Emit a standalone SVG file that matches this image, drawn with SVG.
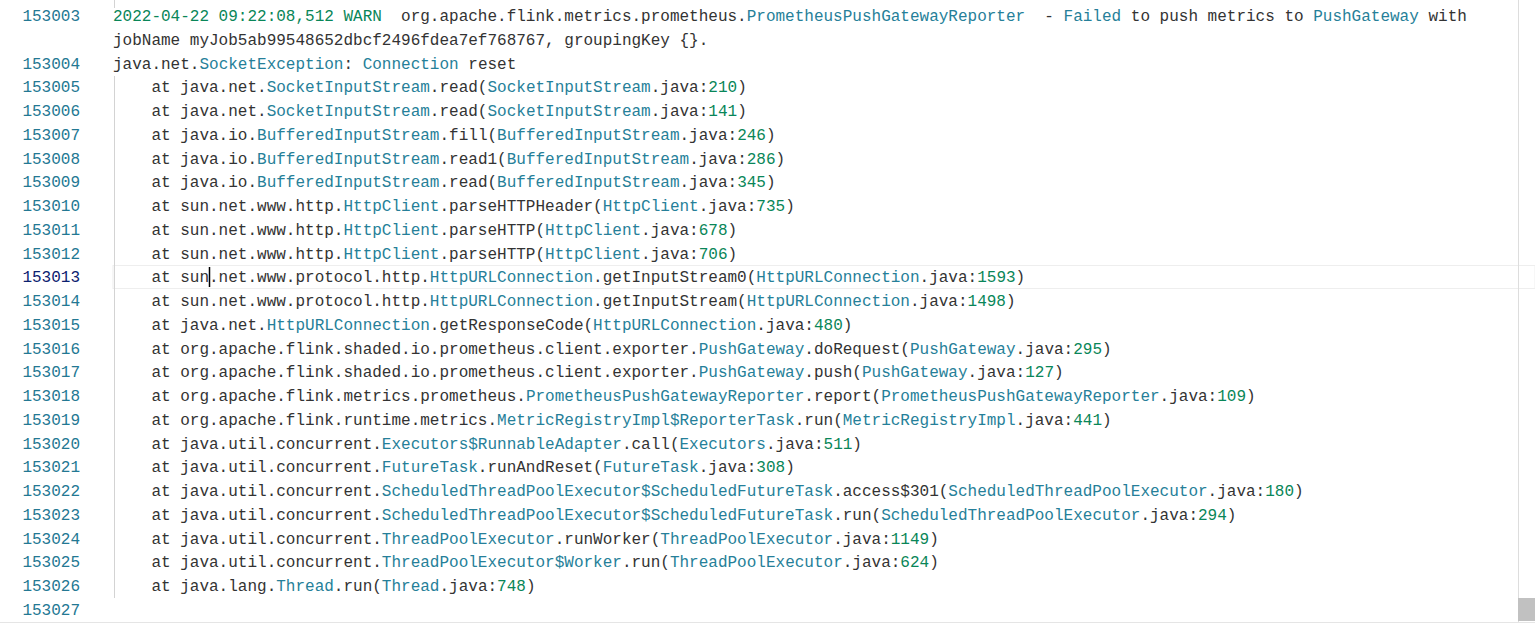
<svg xmlns="http://www.w3.org/2000/svg" width="1535" height="624" viewBox="0 0 1535 624">
<style>
text{font-family:"Liberation Mono",monospace;font-size:16px;fill:#333;white-space:pre}
.ln{fill:#237893;text-anchor:end}
.c{fill:#267f99}
.n{fill:#098658}
</style>
<rect width="1535" height="624" fill="#fff"/>
<g id="editor">
<rect x="113" y="265.5" width="1422" height="23" fill="none" stroke="#eeeeee"/>
<line x1="114.5" y1="0" x2="114.5" y2="8" stroke="#d3d3d3"/>
<line x1="114.5" y1="76" x2="114.5" y2="598" stroke="#d3d3d3"/>
<line x1="209.5" y1="267" x2="209.5" y2="287" stroke="#000" stroke-width="1.5"/>
<line x1="1518.5" y1="0" x2="1518.5" y2="622" stroke="#ddd"/>
<rect x="1518" y="598" width="17" height="23" fill="#c1c1c1"/>
<line x1="0" y1="622.5" x2="1535" y2="622.5" stroke="#e5e5e5"/>
</g>
<g id="gutter">
<text class="ln" x="80" y="21">153003</text>
<text class="ln" x="80" y="68.5">153004</text>
<text class="ln" x="80" y="92.25">153005</text>
<text class="ln" x="80" y="116">153006</text>
<text class="ln" x="80" y="139.75">153007</text>
<text class="ln" x="80" y="163.5">153008</text>
<text class="ln" x="80" y="187.25">153009</text>
<text class="ln" x="80" y="211">153010</text>
<text class="ln" x="80" y="234.75">153011</text>
<text class="ln" x="80" y="258.5">153012</text>
<text class="ln" x="80" y="282.25" style="fill:#0b216f">153013</text>
<text class="ln" x="80" y="306">153014</text>
<text class="ln" x="80" y="329.75">153015</text>
<text class="ln" x="80" y="353.5">153016</text>
<text class="ln" x="80" y="377.25">153017</text>
<text class="ln" x="80" y="401">153018</text>
<text class="ln" x="80" y="424.75">153019</text>
<text class="ln" x="80" y="448.5">153020</text>
<text class="ln" x="80" y="472.25">153021</text>
<text class="ln" x="80" y="496">153022</text>
<text class="ln" x="80" y="519.75">153023</text>
<text class="ln" x="80" y="543.5">153024</text>
<text class="ln" x="80" y="567.25">153025</text>
<text class="ln" x="80" y="591">153026</text>
<text class="ln" x="80" y="614.75">153027</text>
</g>
<g id="code">
<text xml:space="preserve" x="113" y="21"><tspan class="n">2022-04-22 09:22:08,512 WARN</tspan>  org.apache.flink.metrics.prometheus.<tspan class="c">PrometheusPushGatewayReporter</tspan>  - <tspan class="c">Failed</tspan> to push metrics to <tspan class="c">PushGateway</tspan> with</text>
<text xml:space="preserve" x="113" y="44.75">jobName myJob5ab99548652dbcf2496fdea7ef768767, groupingKey {}.</text>
<text xml:space="preserve" x="113" y="68.5">java.net.<tspan class="c">SocketException</tspan>: <tspan class="c">Connection</tspan> reset</text>
<text xml:space="preserve" x="113" y="92.25">    at java.net.<tspan class="c">SocketInputStream</tspan>.read(<tspan class="c">SocketInputStream</tspan>.java:<tspan class="n">210</tspan>)</text>
<text xml:space="preserve" x="113" y="116">    at java.net.<tspan class="c">SocketInputStream</tspan>.read(<tspan class="c">SocketInputStream</tspan>.java:<tspan class="n">141</tspan>)</text>
<text xml:space="preserve" x="113" y="139.75">    at java.io.<tspan class="c">BufferedInputStream</tspan>.fill(<tspan class="c">BufferedInputStream</tspan>.java:<tspan class="n">246</tspan>)</text>
<text xml:space="preserve" x="113" y="163.5">    at java.io.<tspan class="c">BufferedInputStream</tspan>.read1(<tspan class="c">BufferedInputStream</tspan>.java:<tspan class="n">286</tspan>)</text>
<text xml:space="preserve" x="113" y="187.25">    at java.io.<tspan class="c">BufferedInputStream</tspan>.read(<tspan class="c">BufferedInputStream</tspan>.java:<tspan class="n">345</tspan>)</text>
<text xml:space="preserve" x="113" y="211">    at sun.net.www.http.<tspan class="c">HttpClient</tspan>.parseHTTPHeader(<tspan class="c">HttpClient</tspan>.java:<tspan class="n">735</tspan>)</text>
<text xml:space="preserve" x="113" y="234.75">    at sun.net.www.http.<tspan class="c">HttpClient</tspan>.parseHTTP(<tspan class="c">HttpClient</tspan>.java:<tspan class="n">678</tspan>)</text>
<text xml:space="preserve" x="113" y="258.5">    at sun.net.www.http.<tspan class="c">HttpClient</tspan>.parseHTTP(<tspan class="c">HttpClient</tspan>.java:<tspan class="n">706</tspan>)</text>
<text xml:space="preserve" x="113" y="282.25">    at sun.net.www.protocol.http.<tspan class="c">HttpURLConnection</tspan>.getInputStream0(<tspan class="c">HttpURLConnection</tspan>.java:<tspan class="n">1593</tspan>)</text>
<text xml:space="preserve" x="113" y="306">    at sun.net.www.protocol.http.<tspan class="c">HttpURLConnection</tspan>.getInputStream(<tspan class="c">HttpURLConnection</tspan>.java:<tspan class="n">1498</tspan>)</text>
<text xml:space="preserve" x="113" y="329.75">    at java.net.<tspan class="c">HttpURLConnection</tspan>.getResponseCode(<tspan class="c">HttpURLConnection</tspan>.java:<tspan class="n">480</tspan>)</text>
<text xml:space="preserve" x="113" y="353.5">    at org.apache.flink.shaded.io.prometheus.client.exporter.<tspan class="c">PushGateway</tspan>.doRequest(<tspan class="c">PushGateway</tspan>.java:<tspan class="n">295</tspan>)</text>
<text xml:space="preserve" x="113" y="377.25">    at org.apache.flink.shaded.io.prometheus.client.exporter.<tspan class="c">PushGateway</tspan>.push(<tspan class="c">PushGateway</tspan>.java:<tspan class="n">127</tspan>)</text>
<text xml:space="preserve" x="113" y="401">    at org.apache.flink.metrics.prometheus.<tspan class="c">PrometheusPushGatewayReporter</tspan>.report(<tspan class="c">PrometheusPushGatewayReporter</tspan>.java:<tspan class="n">109</tspan>)</text>
<text xml:space="preserve" x="113" y="424.75">    at org.apache.flink.runtime.metrics.<tspan class="c">MetricRegistryImpl$ReporterTask</tspan>.run(<tspan class="c">MetricRegistryImpl</tspan>.java:<tspan class="n">441</tspan>)</text>
<text xml:space="preserve" x="113" y="448.5">    at java.util.concurrent.<tspan class="c">Executors$RunnableAdapter</tspan>.call(<tspan class="c">Executors</tspan>.java:<tspan class="n">511</tspan>)</text>
<text xml:space="preserve" x="113" y="472.25">    at java.util.concurrent.<tspan class="c">FutureTask</tspan>.runAndReset(<tspan class="c">FutureTask</tspan>.java:<tspan class="n">308</tspan>)</text>
<text xml:space="preserve" x="113" y="496">    at java.util.concurrent.<tspan class="c">ScheduledThreadPoolExecutor$ScheduledFutureTask</tspan>.access$301(<tspan class="c">ScheduledThreadPoolExecutor</tspan>.java:<tspan class="n">180</tspan>)</text>
<text xml:space="preserve" x="113" y="519.75">    at java.util.concurrent.<tspan class="c">ScheduledThreadPoolExecutor$ScheduledFutureTask</tspan>.run(<tspan class="c">ScheduledThreadPoolExecutor</tspan>.java:<tspan class="n">294</tspan>)</text>
<text xml:space="preserve" x="113" y="543.5">    at java.util.concurrent.<tspan class="c">ThreadPoolExecutor</tspan>.runWorker(<tspan class="c">ThreadPoolExecutor</tspan>.java:<tspan class="n">1149</tspan>)</text>
<text xml:space="preserve" x="113" y="567.25">    at java.util.concurrent.<tspan class="c">ThreadPoolExecutor$Worker</tspan>.run(<tspan class="c">ThreadPoolExecutor</tspan>.java:<tspan class="n">624</tspan>)</text>
<text xml:space="preserve" x="113" y="591">    at java.lang.<tspan class="c">Thread</tspan>.run(<tspan class="c">Thread</tspan>.java:<tspan class="n">748</tspan>)</text>
</g>
</svg>
